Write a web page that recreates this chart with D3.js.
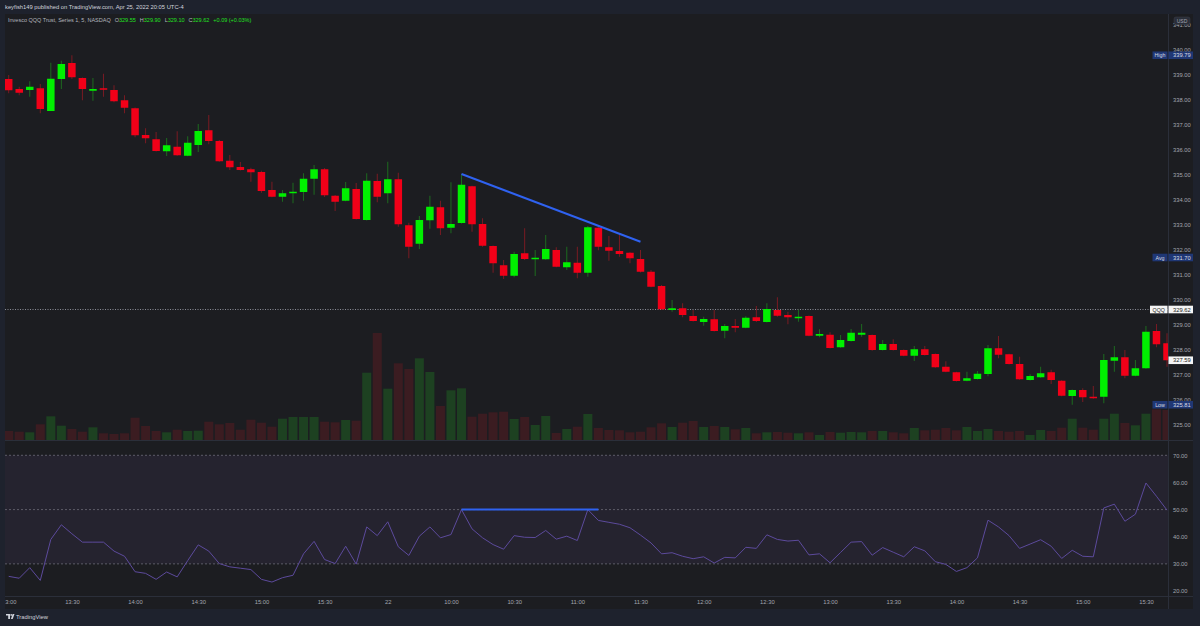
<!DOCTYPE html>
<html>
<head>
<meta charset="utf-8">
<script src="https://cdn.jsdelivr.net/npm/d3@7"></script>
<style>
  body { margin: 0; background: #1e222d; }
  svg { display: block; font-family: "Liberation Sans", Arial, sans-serif; }
</style>
</head>
<body>
<div id="chart"></div>
<script>
// QQQ 5 min, Apr 21 13:00 -> Apr 22 15:40
const opens = [338.84,338.44,338.40,338.47,337.56,338.84,339.48,338.88,338.37,338.47,
  338.40,337.99,337.67,336.60,336.43,335.95,336.13,335.77,336.20,336.79,
  336.36,335.57,335.32,335.23,335.12,334.40,334.13,334.27,334.32,334.85,
  335.23,334.17,333.97,334.44,333.20,334.76,334.27,334.83,332.99,332.25,
  333.19,333.71,332.89,333.08,334.55,333.04,332.16,331.39,330.97,331.87,
  331.64,331.63,332.00,331.31,331.49,331.09,332.89,332.11,331.96,331.89,
  331.64,331.13,330.56,329.60,329.67,329.36,329.12,329.23,328.77,328.96,
  328.89,329.31,329.12,329.60,329.40,329.28,329.36,328.57,328.61,328.11,
  328.36,328.61,328.60,328.00,328.24,328.00,327.77,328.03,327.84,327.33,
  327.11,326.77,326.84,327.04,328.07,327.83,327.44,326.80,326.91,327.11,
  326.77,326.16,326.40,326.13,326.13,327.57,327.71,326.97,327.27,328.76,
  328.27]
const highs = [339.00,338.53,338.75,338.64,339.49,339.57,339.79,338.90,338.88,339.05,
  338.59,338.19,337.70,336.87,336.72,336.48,336.75,336.55,337.04,337.40,
  336.40,335.80,335.52,335.29,335.17,334.73,334.40,334.69,335.07,335.40,
  335.28,334.20,334.72,334.68,335.07,335.05,335.53,335.09,333.09,333.36,
  334.17,333.97,334.71,335.04,334.57,333.27,332.18,331.60,331.93,332.87,
  332.00,332.60,332.11,332.13,332.13,332.96,332.96,332.56,332.67,331.91,
  332.00,331.20,330.60,330.00,329.87,329.60,329.33,329.60,329.04,329.24,
  329.35,329.76,329.87,330.11,329.53,329.61,329.38,328.83,328.71,328.60,
  328.84,329.04,328.62,328.40,328.43,328.02,328.16,328.16,327.86,327.55,
  327.13,327.13,327.16,328.20,328.56,327.85,327.73,327.03,327.33,327.21,
  326.79,326.42,326.47,326.56,327.84,328.16,328.00,327.60,328.96,329.04,
  328.67]
const lows = [338.27,338.19,338.13,337.47,337.56,338.44,338.84,337.99,337.97,338.13,
  337.91,337.47,336.51,336.27,335.94,335.76,335.77,335.75,335.92,336.23,
  335.53,335.20,335.18,334.73,334.29,334.11,333.93,333.87,333.97,334.21,
  334.12,333.56,333.95,333.22,333.18,333.91,333.87,332.93,331.67,332.04,
  332.85,332.60,332.67,333.06,332.73,332.13,331.09,330.84,330.91,331.60,
  330.96,331.61,331.31,331.20,330.87,330.93,331.99,331.57,331.73,331.47,
  331.10,330.51,329.61,329.53,329.31,329.14,328.97,328.74,328.47,328.71,
  328.87,329.12,329.10,329.33,329.03,329.13,328.55,328.51,328.06,328.09,
  328.34,328.53,327.97,327.98,327.98,327.75,327.56,327.78,327.29,327.11,
  326.74,326.75,326.82,326.95,327.67,327.42,326.81,326.78,326.89,326.64,
  326.15,325.81,325.92,326.05,325.87,327.13,326.87,326.95,327.25,328.11,
  327.33]
const closes = [338.39,338.29,338.53,337.64,338.85,339.44,338.91,338.44,338.44,338.41,
  337.95,337.69,336.59,336.47,335.96,336.19,335.79,336.29,336.76,336.36,
  335.55,335.31,335.20,335.11,334.36,334.13,334.27,334.33,334.85,335.23,
  334.19,333.93,334.47,333.24,334.77,334.13,334.83,333.03,332.13,333.20,
  333.73,332.87,333.04,334.61,333.03,332.17,331.47,330.97,331.84,331.64,
  331.69,332.04,331.33,331.51,331.09,332.91,332.13,331.97,331.84,331.67,
  331.13,330.53,329.63,329.67,329.40,329.16,329.24,328.76,328.96,328.89,
  329.29,329.16,329.64,329.37,329.31,329.33,328.57,328.64,328.08,328.40,
  328.69,328.69,328.00,328.24,328.00,327.77,328.03,327.80,327.31,327.13,
  326.76,326.87,327.05,328.07,327.81,327.44,326.83,326.96,327.07,326.80,
  326.17,326.40,326.11,326.07,327.60,327.71,326.97,327.27,328.73,328.23,
  327.59]
// volume in thousands of shares
const volumes = [90,83,77,157,237,143,110,83,127,67,
  60,67,223,140,90,77,103,90,93,183,
  157,170,103,203,173,133,213,230,230,230,
  183,177,200,193,673,1070,513,767,710,817,
  680,340,497,517,233,263,277,283,210,230,
  150,240,70,110,133,260,120,100,97,77,
  83,127,167,130,173,190,130,140,130,107,
  120,67,77,80,73,67,77,50,80,73,
  80,77,90,90,77,67,120,97,103,120,
  97,130,90,110,90,83,90,50,100,90,
  123,213,123,103,213,263,170,147,263,307,
  300]
const rsiValues = [25.4,24.7,28.6,23.9,39.0,44.4,41.1,38.0,38.0,38.0,
  34.7,32.8,27.1,26.5,24.3,27.0,25.2,31.2,37.0,34.7,
  30.1,28.9,28.4,27.9,24.3,23.3,24.9,25.8,33.7,38.3,
  31.6,30.1,36.5,29.9,43.6,40.4,45.5,36.3,33.1,40.2,
  43.6,39.6,40.8,50.0,42.9,39.6,37.1,35.4,40.4,39.8,
  39.7,42.3,39.1,40.2,38.6,50.0,46.0,45.3,44.6,43.3,
  40.6,37.7,33.7,34.1,32.8,31.9,32.6,30.3,32.4,32.2,
  36.1,35.7,40.7,39.0,38.4,38.7,33.3,33.7,30.4,34.2,
  38.0,38.2,33.2,36.0,34.3,32.6,36.3,34.8,30.8,29.8,
  27.2,28.6,32.2,46.1,43.6,40.4,35.7,37.3,38.9,36.5,
  32.0,35.0,32.8,32.6,50.6,52.0,45.7,48.3,59.8,54.9,
  49.8]

const priceTicks = [325,326,327,328,329,330,331,332,333,334,335,336,337,338,339,340,341]
const rsiTicks = [20,30,40,50,60,70]
const rsiLevels = [30,50,70]
const timeLabels = ['13:00','13:30','14:00','14:30','15:00','15:30','22','10:00','10:30','11:00',
  '11:30','12:00','12:30','13:00','13:30','14:00','14:30','15:00','15:30']
const timeIdx = timeLabels.map((d, k) => k * 6)

// drawings made on the chart
const trendLine = [{i: 43, p: 335.04}, {i: 60, p: 332.33}]
const rsiTrend = [{i: 43, v: 50}, {i: 56, v: 50}]
const markers = [
  {name: 'High', price: 339.79},
  {name: 'Avg', price: 331.70},
  {name: 'QQQ', price: 329.62},
  {name: '', price: 327.59},
  {name: 'Low', price: 325.81}
]
const lastPrice = 329.62

const bars = opens.map((o, i) => ({i, o, h: highs[i], l: lows[i], c: closes[i], v: volumes[i], r: rsiValues[i]}))

const W = 1200, H = 626
const pane = {left: 5, right: 1168, edge: 1193, top: 14, mainBottom: 440, rsiTop: 441, rsiBottom: 596, axisBottom: 609}

const upColor = '#00f000', downColor = '#f20018'
const upWick = '#1d6b1f', downWick = '#7a1b23'
const upVol = '#1d4121', downVol = '#3b1c21'
const axisText = '#a3a6af'

const svg = d3.select('#chart').append('svg')
  .attr('width', W)
  .attr('height', H)

svg.append('rect').attr('width', W).attr('height', H).attr('fill', '#1e222d')
svg.append('rect')
  .attr('x', pane.left).attr('y', pane.top)
  .attr('width', pane.edge - pane.left).attr('height', pane.axisBottom - pane.top)
  .attr('fill', '#1c1d21')

const defs = svg.append('defs')
defs.append('clipPath').attr('id', 'clipMain').append('rect')
  .attr('x', pane.left).attr('y', pane.top)
  .attr('width', pane.right - pane.left).attr('height', pane.mainBottom - pane.top)
defs.append('clipPath').attr('id', 'clipRsi').append('rect')
  .attr('x', pane.left).attr('y', pane.rsiTop)
  .attr('width', pane.right - pane.left).attr('height', pane.rsiBottom - pane.rsiTop)
defs.append('clipPath').attr('id', 'clipTime').append('rect')
  .attr('x', pane.left).attr('y', pane.rsiBottom)
  .attr('width', pane.right - pane.left).attr('height', pane.axisBottom - pane.rsiBottom)

// scales
const x = d3.scaleLinear().domain([0, 110]).range([8.7, 8.7 + 110 * 10.53])
const y = d3.scaleLinear().domain([325, 341]).range([425, 25])
const yVol = d3.scaleLinear().domain([0, 1200]).range([pane.mainBottom, 320])
const yRsi = d3.scaleLinear().domain([20, 70]).range([591, 455.3])

const bodyW = 7.5, volW = 9

// volume
const main = svg.append('g').attr('clip-path', 'url(#clipMain)')
main.append('g').selectAll('rect')
  .data(bars)
  .join('rect')
  .attr('x', d => x(d.i) - volW / 2)
  .attr('y', d => yVol(d.v))
  .attr('width', volW)
  .attr('height', d => yVol(0) - yVol(d.v))
  .attr('fill', d => d.c >= d.o ? upVol : downVol)

// last price dotted line
main.append('line')
  .attr('x1', pane.left).attr('x2', pane.right)
  .attr('y1', y(lastPrice)).attr('y2', y(lastPrice))
  .attr('stroke', '#8a8d96').attr('stroke-width', 1).attr('stroke-dasharray', '1,1.5')

// candles
const candles = main.append('g').selectAll('g')
  .data(bars)
  .join('g')
candles.append('line')
  .attr('x1', d => x(d.i)).attr('x2', d => x(d.i))
  .attr('y1', d => y(d.h)).attr('y2', d => y(d.l))
  .attr('stroke', d => d.c >= d.o ? upWick : downWick)
  .attr('stroke-width', 1)
candles.append('rect')
  .attr('x', d => x(d.i) - bodyW / 2)
  .attr('y', d => y(Math.max(d.o, d.c)))
  .attr('width', bodyW)
  .attr('height', d => Math.max(1.5, Math.abs(y(d.o) - y(d.c))))
  .attr('fill', d => d.c >= d.o ? upColor : downColor)

// trend line
main.append('path')
  .datum(trendLine)
  .attr('d', d3.line().x(d => x(d.i)).y(d => y(d.p)))
  .attr('fill', 'none').attr('stroke', '#2f62f0').attr('stroke-width', 2)

// RSI pane
const rsiG = svg.append('g').attr('clip-path', 'url(#clipRsi)')
rsiG.append('rect')
  .attr('x', pane.left).attr('y', yRsi(70))
  .attr('width', pane.right - pane.left).attr('height', yRsi(30) - yRsi(70))
  .attr('fill', '#25232f')
rsiG.selectAll('line.level')
  .data(rsiLevels)
  .join('line')
  .attr('class', 'level')
  .attr('x1', pane.left).attr('x2', pane.right)
  .attr('y1', d => yRsi(d)).attr('y2', d => yRsi(d))
  .attr('stroke', '#5d5c68').attr('stroke-dasharray', '2,2')
rsiG.append('path')
  .datum(bars)
  .attr('d', d3.line().x(d => x(d.i)).y(d => yRsi(d.r)))
  .attr('fill', 'none').attr('stroke', '#5c4a9c').attr('stroke-width', 1)
rsiG.append('path')
  .datum(rsiTrend)
  .attr('d', d3.line().x(d => x(d.i)).y(d => yRsi(d.v)))
  .attr('fill', 'none').attr('stroke', '#2f62f0').attr('stroke-width', 2)

// separators
const sep = '#2b2f3a'
svg.append('line').attr('x1', pane.right + 0.5).attr('x2', pane.right + 0.5)
  .attr('y1', pane.top).attr('y2', pane.axisBottom).attr('stroke', sep)
svg.append('line').attr('x1', pane.left).attr('x2', pane.edge)
  .attr('y1', pane.mainBottom + 0.5).attr('y2', pane.mainBottom + 0.5).attr('stroke', sep)
svg.append('line').attr('x1', pane.left).attr('x2', pane.edge)
  .attr('y1', pane.rsiBottom + 0.5).attr('y2', pane.rsiBottom + 0.5).attr('stroke', sep)

// axes
const styleAxis = g => {
  g.select('.domain').remove()
  g.selectAll('text').attr('fill', axisText).attr('font-size', 5.8)
}
svg.append('g')
  .attr('transform', `translate(${pane.right},0)`)
  .call(d3.axisRight(y).tickValues(priceTicks).tickFormat(d3.format('.2f')).tickSize(0).tickPadding(5))
  .call(styleAxis)
svg.append('g')
  .attr('transform', `translate(${pane.right},0)`)
  .call(d3.axisRight(yRsi).tickValues(rsiTicks).tickFormat(d3.format('.2f')).tickSize(0).tickPadding(5))
  .call(styleAxis)
svg.append('g')
  .attr('clip-path', 'url(#clipTime)')
  .append('g')
  .attr('transform', `translate(0,${pane.rsiBottom})`)
  .call(d3.axisBottom(x).tickValues(timeIdx).tickFormat((d, k) => timeLabels[k]).tickSize(0).tickPadding(4))
  .call(styleAxis)

// USD box
svg.append('rect')
  .attr('x', 1174).attr('y', 17).attr('width', 16).attr('height', 7.5).attr('rx', 2)
  .attr('fill', '#2a2e39').attr('stroke', '#3c404b').attr('stroke-width', 0.5)
svg.append('text')
  .attr('x', 1182).attr('y', 22.7).attr('text-anchor', 'middle')
  .attr('font-size', 5).attr('fill', axisText).text('USD')

// price markers on the axis
const tags = svg.append('g').selectAll('g')
  .data(markers)
  .join('g')
  .attr('transform', d => `translate(0,${y(d.price)})`)
const isWhite = d => d.name === 'QQQ' || d.name === ''
tags.filter(d => d.name !== '').append('rect')
  .attr('x', d => d.name === 'QQQ' ? 1150 : 1152.5).attr('y', -3.8)
  .attr('width', d => d.name === 'QQQ' ? 17.5 : 15).attr('height', 7.6)
  .attr('fill', d => isWhite(d) ? '#f4f4f4' : '#1f3775')
tags.filter(d => d.name !== '').append('text')
  .attr('x', d => d.name === 'QQQ' ? 1158.8 : 1160).attr('y', 2)
  .attr('text-anchor', 'middle').attr('font-size', 5.3)
  .attr('fill', d => isWhite(d) ? '#1c1d21' : '#d8dbe3')
  .text(d => d.name)
tags.append('rect')
  .attr('x', pane.right + 0.5).attr('y', -3.8)
  .attr('width', pane.edge - pane.right - 0.5).attr('height', 7.6)
  .attr('fill', d => isWhite(d) ? '#f4f4f4' : '#1f3775')
tags.append('text')
  .attr('x', pane.right + 5).attr('y', 2)
  .attr('font-size', 5.8)
  .attr('fill', d => isWhite(d) ? '#1c1d21' : '#d8dbe3')
  .text(d => d3.format('.2f')(d.price))

// header
svg.append('text')
  .attr('x', 5).attr('y', 9)
  .attr('font-size', 5.8).attr('fill', '#d1d4dc')
  .text('keyfish149 published on TradingView.com, Apr 25, 2022 20:05 UTC-4')

const legend = svg.append('text').attr('x', 8).attr('y', 22).attr('font-size', 5.5)
legend.append('tspan').attr('fill', '#b2b5be').text('Invesco QQQ Trust, Series 1, 5, NASDAQ')
const ohlc = [['O', '329.55'], ['H', '329.90'], ['L', '329.10'], ['C', '329.62']]
ohlc.forEach(([k, v]) => {
  legend.append('tspan').attr('dx', 4).attr('fill', '#b2b5be').text(k)
  legend.append('tspan').attr('fill', '#22e022').text(v)
})
legend.append('tspan').attr('dx', 4).attr('fill', '#22e022').text('+0.09 (+0.03%)')

// TradingView footer logo
const logo = svg.append('g').attr('transform', 'translate(6,614)')
logo.append('path').attr('d', 'M0,0 H4 V5 H2.2 V1.6 H0 Z').attr('fill', '#d1d4dc')
logo.append('circle').attr('cx', 5.2).attr('cy', 0.9).attr('r', 0.9).attr('fill', '#d1d4dc')
logo.append('path').attr('d', 'M6.6,0 H8.5 L6.7,5 H4.9 Z').attr('fill', '#d1d4dc')
svg.append('text')
  .attr('x', 16).attr('y', 619)
  .attr('font-size', 5.8).attr('fill', '#d1d4dc')
  .text('TradingView')
</script>
</body>
</html>
